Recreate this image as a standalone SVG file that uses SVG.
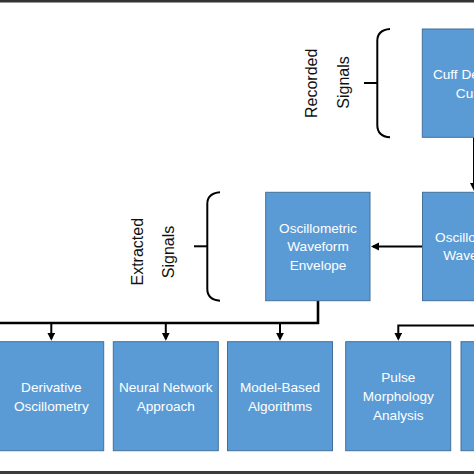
<svg xmlns="http://www.w3.org/2000/svg" width="474" height="474" viewBox="0 0 474 474">
  <style>
    .box { fill: #5B9BD5; stroke: #41719C; stroke-width: 1; }
    .lbl { font-family: "Liberation Sans", Arial, sans-serif; font-size: 13.6px; fill: #FFFFFF; text-anchor: middle; }
    .side { font-family: "Liberation Sans", Arial, sans-serif; font-size: 16px; fill: #111111; text-anchor: middle; }
    .brace { fill: none; stroke: #000000; stroke-width: 2; }
    .conn { fill: none; stroke: #000000; stroke-width: 2; }
    .thick { stroke-width: 2.6; }
  </style>
  <defs>
    <marker id="arrow" markerUnits="userSpaceOnUse" markerWidth="9" markerHeight="9" refX="6" refY="4" orient="auto">
      <path d="M0,0 L8,4 L0,8 z" fill="#000000"/>
    </marker>
  </defs>
  <rect x="0" y="0" width="474" height="474" fill="#FFFFFF"/>
  <rect x="0" y="0" width="474" height="2.5" fill="#333333"/>
  <rect x="0" y="471" width="474" height="3" fill="#3C3C3C"/>

  <g id="recorded-signals">
    <path class="brace" d="M390,29 Q377.3,30 377.3,41 V125 Q377.3,136.5 390,137.3"/>
    <path class="brace" d="M364,83 H377.3"/>
    <text class="side" transform="translate(316.5,83.3) rotate(-90)">Recorded</text>
    <text class="side" transform="translate(348.5,82.5) rotate(-90)">Signals</text>
  </g>

  <g id="extracted-signals">
    <path class="brace" d="M220,192.3 Q207.3,193.3 207.3,204 V289 Q207.3,299.7 220,300.7"/>
    <path class="brace" d="M194,246.3 H207.3"/>
    <text class="side" transform="translate(142.5,251.7) rotate(-90)">Extracted</text>
    <text class="side" transform="translate(174,252) rotate(-90)">Signals</text>
  </g>

  <g id="connectors">
    <path class="conn" d="M474,137.3 V189" marker-end="url(#arrow)"/>
    <path class="conn" d="M422.3,246.5 H373" marker-end="url(#arrow)"/>
    <path class="conn thick" d="M318,300.7 V323 H-2"/>
    <path class="conn" d="M51.3,323 V338.7" marker-end="url(#arrow)"/>
    <path class="conn" d="M165.8,323 V338.7" marker-end="url(#arrow)"/>
    <path class="conn" d="M280,323 V338.7" marker-end="url(#arrow)"/>
    <path class="conn" d="M476,325.5 H398.3 V338.7" marker-end="url(#arrow)"/>
  </g>

  <g id="cuff-deflation-curve">
    <rect class="box" x="422.3" y="29" width="104" height="108.3"/>
    <text class="lbl" x="474" y="78.5">Cuff Deflation</text>
    <text class="lbl" x="474" y="97.5">Curve</text>
  </g>

  <g id="oscillometric-waveform">
    <rect class="box" x="422.5" y="192.3" width="104" height="108.4"/>
    <text class="lbl" x="474" y="241.8">Oscillometric</text>
    <text class="lbl" x="474" y="260.2">Waveform</text>
  </g>

  <g id="oscillometric-waveform-envelope">
    <rect class="box" x="265.7" y="192.3" width="104.3" height="108.4"/>
    <text class="lbl" x="318" y="232.8">Oscillometric</text>
    <text class="lbl" x="318" y="251.2">Waveform</text>
    <text class="lbl" x="318" y="269.5">Envelope</text>
  </g>

  <g id="derivative-oscillometry">
    <rect class="box" x="-1" y="341.7" width="104.7" height="109"/>
    <text class="lbl" x="51.3" y="391.5">Derivative</text>
    <text class="lbl" x="51.3" y="410.5">Oscillometry</text>
  </g>

  <g id="neural-network-approach">
    <rect class="box" x="113.3" y="341.7" width="105" height="109"/>
    <text class="lbl" x="165.8" y="391.8">Neural Network</text>
    <text class="lbl" x="165.8" y="410.5">Approach</text>
  </g>

  <g id="model-based-algorithms">
    <rect class="box" x="227.5" y="341.7" width="105" height="109"/>
    <text class="lbl" x="280" y="391.8">Model-Based</text>
    <text class="lbl" x="280" y="410.5">Algorithms</text>
  </g>

  <g id="pulse-morphology-analysis">
    <rect class="box" x="345.7" y="341.7" width="105" height="109"/>
    <text class="lbl" x="398.3" y="382.2">Pulse</text>
    <text class="lbl" x="398.3" y="401">Morphology</text>
    <text class="lbl" x="398.3" y="419.5">Analysis</text>
  </g>

  <g id="next-method">
    <rect class="box" x="461" y="341.7" width="105" height="109"/>
  </g>
</svg>
